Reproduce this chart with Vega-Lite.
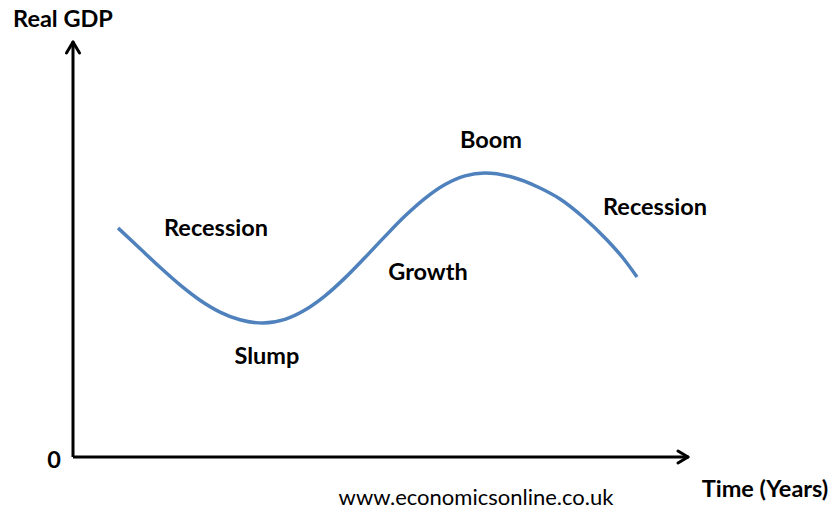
{
  "$schema": "https://vega.github.io/schema/vega-lite/v6.json",
  "width": 839,
  "height": 526,
  "autosize": {"type": "fit", "contains": "padding"},
  "padding": 0,
  "background": "white",
  "config": {"view": {"stroke": null}},
  "datasets": {
    "curve": [
      {"t": 0.732, "g": 5.518},
      {"t": 1.089, "g": 5.024},
      {"t": 1.415, "g": 4.571},
      {"t": 1.74, "g": 4.147},
      {"t": 2.065, "g": 3.778},
      {"t": 2.39, "g": 3.492},
      {"t": 2.715, "g": 3.306},
      {"t": 3.089, "g": 3.229},
      {"t": 3.447, "g": 3.316},
      {"t": 3.772, "g": 3.54},
      {"t": 4.098, "g": 3.882},
      {"t": 4.423, "g": 4.316},
      {"t": 4.748, "g": 4.807},
      {"t": 5.073, "g": 5.316},
      {"t": 5.398, "g": 5.805},
      {"t": 5.724, "g": 6.231},
      {"t": 6.049, "g": 6.564},
      {"t": 6.374, "g": 6.773},
      {"t": 6.699, "g": 6.843},
      {"t": 7.106, "g": 6.759},
      {"t": 7.593, "g": 6.482},
      {"t": 7.919, "g": 6.217},
      {"t": 8.293, "g": 5.783},
      {"t": 8.683, "g": 5.229},
      {"t": 8.943, "g": 4.795},
      {"t": 9.171, "g": 4.337}
    ],
    "axes": [
      {"x1": 0, "y1": 0, "x2": 0, "y2": 10},
      {"x1": 0, "y1": 0, "x2": 10, "y2": 0}
    ],
    "heads": [
      {"x1": 9.837, "y1": 0.145, "x2": 10, "y2": 0},
      {"x1": 9.837, "y1": -0.145, "x2": 10, "y2": 0},
      {"x1": -0.106, "y1": 9.735, "x2": 0, "y2": 10},
      {"x1": 0.106, "y1": 9.735, "x2": 0, "y2": 10}
    ],
    "labels": [
      {"label": "Real GDP", "t": -0.163, "g": 10.53},
      {"label": "0", "t": -0.309, "g": -0.096},
      {"label": "Time (Years)", "t": 11.252, "g": -0.795},
      {"label": "Recession", "t": 2.325, "g": 5.494},
      {"label": "Slump", "t": 3.154, "g": 2.41},
      {"label": "Growth", "t": 5.772, "g": 4.434},
      {"label": "Boom", "t": 6.797, "g": 7.614},
      {"label": "Recession", "t": 9.463, "g": 6.0}
    ],
    "credit": [
      {"label": "www.economicsonline.co.uk", "t": 6.553, "g": -0.988}
    ]
  },
  "layer": [
    {
      "data": {"name": "axes"},
      "mark": {"type": "rule", "color": "black", "strokeWidth": 3, "strokeCap": "butt"},
      "encoding": {
        "x": {"field": "x1", "type": "quantitative", "scale": {"domain": [-1.187, 12.455], "nice": false, "zero": false}, "axis": null},
        "y": {"field": "y1", "type": "quantitative", "scale": {"domain": [-1.663, 11.012], "nice": false, "zero": false}, "axis": null},
        "x2": {"field": "x2"},
        "y2": {"field": "y2"}
      }
    },
    {
      "data": {"name": "heads"},
      "mark": {"type": "rule", "color": "black", "strokeWidth": 3, "strokeCap": "round"},
      "encoding": {
        "x": {"field": "x1", "type": "quantitative"},
        "y": {"field": "y1", "type": "quantitative"},
        "x2": {"field": "x2"},
        "y2": {"field": "y2"}
      }
    },
    {
      "data": {"name": "curve"},
      "mark": {"type": "line", "color": "#4F81BD", "strokeWidth": 3.5, "interpolate": "monotone"},
      "encoding": {
        "x": {"field": "t", "type": "quantitative"},
        "y": {"field": "g", "type": "quantitative"}
      }
    },
    {
      "data": {"name": "labels"},
      "mark": {"type": "text", "font": "Lato", "fontWeight": "bold", "fontSize": 23.5, "color": "black", "align": "center", "baseline": "middle"},
      "encoding": {
        "x": {"field": "t", "type": "quantitative"},
        "y": {"field": "g", "type": "quantitative"},
        "text": {"field": "label"}
      }
    },
    {
      "data": {"name": "credit"},
      "mark": {"type": "text", "font": "Lato", "fontSize": 22, "color": "black", "align": "center", "baseline": "middle"},
      "encoding": {
        "x": {"field": "t", "type": "quantitative"},
        "y": {"field": "g", "type": "quantitative"},
        "text": {"field": "label"}
      }
    }
  ]
}
